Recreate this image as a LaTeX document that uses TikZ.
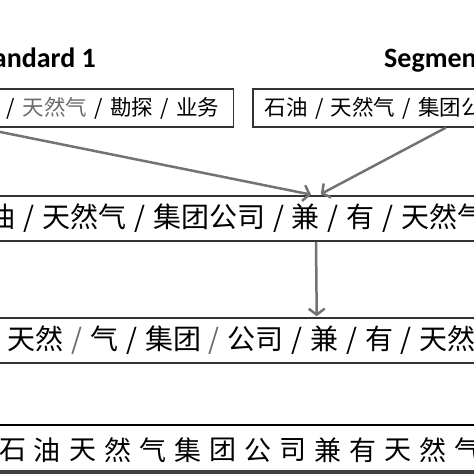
\documentclass[tikz,border=0pt]{standalone}
\usepackage{fontspec}
\usetikzlibrary{arrows.meta,positioning}
\newfontfamily\cjk{Noto Sans CJK SC}
\newfontfamily\lat{Carlito}
\definecolor{linegray}{gray}{0.2}
\definecolor{arrowgray}{gray}{0.45}
\definecolor{softgray}{gray}{0.42}
\newcommand{\sep}{\hspace{0.28em}/\hspace{0.28em}}
\newcommand{\gsep}{\hspace{0.28em}\textcolor{softgray}{/}\hspace{0.28em}}
\tikzset{
  segbox/.style={draw=linegray, line width=1.5pt, inner ysep=0pt, minimum height=45pt, font=\cjk\fontsize{28}{30}\selectfont},
  topbox/.style={segbox, minimum height=38pt, font=\cjk\fontsize{21.5}{24}\selectfont},
  title/.style={inner sep=0pt, font=\lat\bfseries\fontsize{28}{32}\selectfont},
  flow/.style={arrowgray, line width=2.5pt, -{Straight Barb[length=6pt,width=16pt]}}
}

\begin{document}
\begin{tikzpicture}[x=1pt,y=-1pt]
\useasboundingbox (0,0) rectangle (474,474);
\clip (0,0) rectangle (474,474);
% titles
\node[title, anchor=base east] (std1) at (96,67) {Standard 1};
\node[title, anchor=base west] (seg2) at (384,67) {Segment};
% the two segmentations
\node[topbox, anchor=east, text width=480pt, align=right, inner xsep=14pt] (cut1) at (234,108)
  {石油\hspace{0.06em}\sep\hspace{0.06em}\textcolor{softgray}{天然气}\hspace{0.06em}\sep\hspace{0.06em}勘探\hspace{0.06em}\sep\hspace{0.06em}业务};
\node[topbox, anchor=west, text width=362pt, align=left, inner xsep=12pt] (cut2) at (252,108)
  {石油\hspace{0.06em}\sep\hspace{0.06em}天然气\hspace{0.06em}\sep\hspace{0.06em}集团公司};
% merged and finer cuts
\node[segbox, line width=2pt, anchor=west, text width=712pt, align=left, inner xsep=7pt] (merge) at (-48,218.5)
  {石油\sep 天然气\sep 集团公司\sep 兼\sep 有\sep 天然气};
\node[segbox, anchor=west, text width=618pt, align=left, inner xsep=27pt] (fine) at (-20,340.5)
  {天然\gsep 气\sep 集团\gsep 公司\sep 兼\sep 有\sep 天然};
\draw[flow, shorten >=2pt] (cut1.south) -- ([xshift=-3pt]merge.north);
\draw[flow, shorten >=2pt] (cut2.south) -- ([xshift=3pt]merge.north);
\draw[flow, shorten >=1pt] (merge.south) -- (fine.north);
% raw sentence
\draw[black, line width=1.5pt] (-5,425) -- (480,425);
\foreach \c [count=\i from 0] in {石,油,天,然,气,集,团,公,司,兼,有,天,然,气}
  \node[font=\cjk\fontsize{27}{30}\selectfont] (ch\i) at (12.5+35*\i,450) {\c};
\fill[black!75] (-5,470) rectangle (480,480);
\end{tikzpicture}
\end{document}
